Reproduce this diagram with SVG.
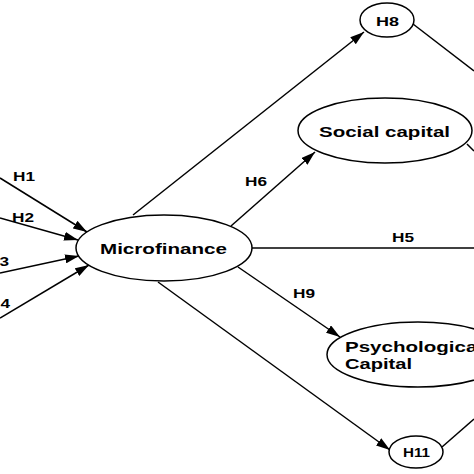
<svg xmlns="http://www.w3.org/2000/svg" width="474" height="474" viewBox="0 0 474 474">
<style>
.node{fill:#fff;stroke:#000;stroke-width:1.5}
.edge{fill:none;stroke:#000;stroke-width:1.5}
.t{font-family:"Liberation Sans",Arial,sans-serif;font-weight:bold;font-size:15px;fill:#000}
.l{font-family:"Liberation Sans",Arial,sans-serif;font-weight:bold;font-size:13px;fill:#000}
</style>
<defs>
<marker id="arr" markerUnits="userSpaceOnUse" markerWidth="14" markerHeight="9" refX="14" refY="4.5" orient="auto">
<path d="M0,0 L14,4.5 L0,9 z" fill="#000"/>
</marker>
</defs>
<rect width="474" height="474" fill="#fff"/>
<g id="connectors">
<line class="edge" x1="0" y1="178" x2="87" y2="232" marker-end="url(#arr)"/>
<line class="edge" x1="0" y1="218" x2="78" y2="240" marker-end="url(#arr)"/>
<line class="edge" x1="0" y1="273" x2="79" y2="256" marker-end="url(#arr)"/>
<line class="edge" x1="0" y1="318" x2="89" y2="265" marker-end="url(#arr)"/>
<line class="edge" x1="133" y1="215" x2="364" y2="32" marker-end="url(#arr)"/>
<line class="edge" x1="231" y1="226" x2="315" y2="152" marker-end="url(#arr)"/>
<line class="edge" x1="252" y1="248" x2="474" y2="248"/>
<line class="edge" x1="238" y1="267" x2="340" y2="337" marker-end="url(#arr)"/>
<line class="edge" x1="158" y1="282" x2="390" y2="450" marker-end="url(#arr)"/>
<line class="edge" x1="413" y1="24" x2="474" y2="71"/>
<line class="edge" x1="467" y1="144" x2="474" y2="151"/>
<line class="edge" x1="470" y1="379" x2="474" y2="376"/>
<line class="edge" x1="442" y1="447" x2="474" y2="419"/>
<text class="l" x="13" y="181" textLength="22" lengthAdjust="spacingAndGlyphs">H1</text>
<text class="l" x="12" y="222" textLength="22" lengthAdjust="spacingAndGlyphs">H2</text>
<text class="l" x="-13" y="266" textLength="22" lengthAdjust="spacingAndGlyphs">H3</text>
<text class="l" x="-12" y="308" textLength="22" lengthAdjust="spacingAndGlyphs">H4</text>
<text class="l" x="245" y="186" textLength="22" lengthAdjust="spacingAndGlyphs">H6</text>
<text class="l" x="392" y="242" textLength="22" lengthAdjust="spacingAndGlyphs">H5</text>
<text class="l" x="293" y="298" textLength="22" lengthAdjust="spacingAndGlyphs">H9</text>
</g>
<g id="microfinance">
<ellipse class="node" cx="164" cy="248" rx="88" ry="33"/>
<text class="t" x="100" y="254" textLength="127" lengthAdjust="spacingAndGlyphs">Microfinance</text>
</g>
<g id="h8">
<ellipse class="node" cx="387" cy="20" rx="27" ry="17"/>
<text class="l" x="376" y="26" textLength="23" lengthAdjust="spacingAndGlyphs">H8</text>
</g>
<g id="social-capital">
<ellipse class="node" cx="385" cy="130.5" rx="87" ry="32.5"/>
<text class="t" x="319" y="137" textLength="131" lengthAdjust="spacingAndGlyphs">Social capital</text>
</g>
<g id="psychological-capital">
<ellipse class="node" cx="418" cy="354.5" rx="91" ry="32.5"/>
<text class="t" x="345" y="352" textLength="138" lengthAdjust="spacingAndGlyphs">Psychological</text>
<text class="t" x="345" y="369" textLength="67" lengthAdjust="spacingAndGlyphs">Capital</text>
</g>
<g id="h11">
<ellipse class="node" cx="416" cy="452" rx="27" ry="16"/>
<text class="l" x="403" y="457" textLength="27" lengthAdjust="spacingAndGlyphs">H11</text>
</g>
</svg>
